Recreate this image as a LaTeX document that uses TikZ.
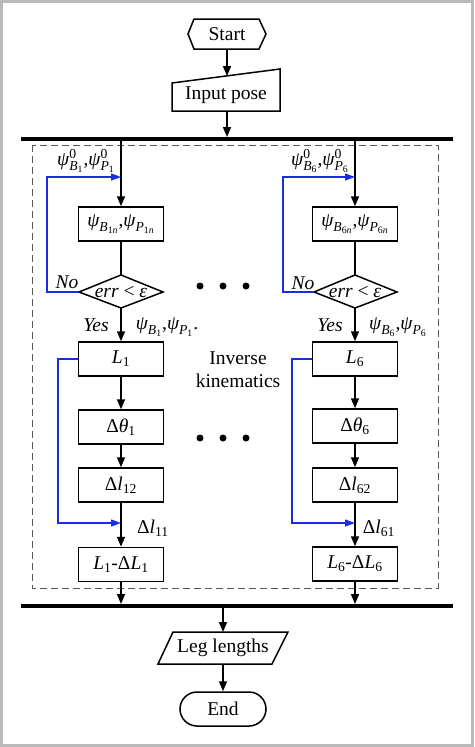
\documentclass[tikz,border=0pt]{standalone}
\usepackage{amsmath}
\usepackage{fontspec}
\setmainfont{Liberation Serif}
\usetikzlibrary{arrows.meta}
\definecolor{lb}{RGB}{25,45,225}
\newcommand\mi[1]{\text{\itshape #1}}
\newcommand\up[1]{\text{\upshape #1}}
\begin{document}
\begin{tikzpicture}[x=1pt,y=-1pt,
  font=\fontsize{19.5}{23}\selectfont,
  ln/.style={line width=1.5pt},
  arr/.style={ln,-{Triangle[length=10pt,width=8pt]}},
  barr/.style={draw=lb,line width=1.2pt,-{Triangle[length=10pt,width=7pt]}},
  blk/.style={draw,line width=1.5pt,minimum width=85pt,minimum height=34pt,inner sep=0pt},
  lbl/.style={inner sep=0pt},
  bar/.style={line width=3.5pt},
  dot/.style={fill,circle,inner sep=0pt,minimum size=7pt},
]
\useasboundingbox (0,0) rectangle (474,747);
\draw[gray!55,line width=3pt] (1.5,1.5) rectangle (472.5,745.5);

% dashed frame
\draw[gray!70!black,line width=1pt,dash pattern=on 7pt off 4pt] (32,145) rectangle (438,588);

% Start
\draw[ln] (188,34) -- (194,19) -- (259,19) -- (266,34) -- (259,49) -- (194,49) -- cycle;
\node (start) at (227,34) {Start};
\coordinate (startb) at (227,49);

% Input pose
\draw[ln] (172,83) -- (280,69) -- (280,111) -- (172,111) -- cycle;
\node (inp) at (226,95) {Input pose};
\coordinate (inpt) at (227,76);
\coordinate (inpb) at (227,111);

% bars
\coordinate (tbL) at (21,139);
\coordinate (tbR) at (453,139);
\coordinate (bbL) at (21,606);
\coordinate (bbR) at (453,606);
\draw[bar] (tbL) -- (tbR);
\draw[bar] (bbL) -- (bbR);
\coordinate (tbM) at (227,137);
\coordinate (tb1) at (121,139);
\coordinate (tb6) at (355,139);
\coordinate (bb1) at (121,604);
\coordinate (bb6) at (355,604);
\coordinate (bbM) at (223,606);

\draw[arr] (startb) -- (inpt);
\draw[arr] (inpb) -- (tbM);

% ---------- column 1 ----------
\node[blk] (psi1) at (121,224) {$\mi{ψ}_{\mi{B}_{\up{1}\mi{n}}}\text{,}\mi{ψ}_{\mi{P}_{\up{1}\mi{n}}}$};
\draw[ln] (79,292) -- (121,275) -- (163,292) -- (121,308) -- cycle;
\node[lbl] (d1) at (121,292) {\itshape err\/ \upshape< \itshape ε};
\coordinate (d1t) at (121,275);
\coordinate (d1b) at (121,308);
\coordinate (d1l) at (79,292);
\node[blk] (L1) at (121,359) {$\mi{L}_{\up{1}}$};
\node[blk] (th1) at (121,427) {$\up{Δ}\mi{θ}_{\up{1}}$};
\node[blk] (l12) at (121,485) {$\up{Δ}\mi{l}_{\up{12}}$};
\node[blk] (LL1) at (121,564.5) {$\mi{L}_{\up{1}}\text{-Δ}\mi{L}_{\up{1}}$};

\coordinate (j1) at (121,177);
\coordinate (k1) at (121,523);
\draw[arr] (tb1) -- (psi1.north);
\draw[ln] (psi1.south) -- (d1t);
\draw[arr] (d1b) -- (L1.north);
\draw[arr] (L1.south) -- (th1.north);
\draw[arr] (th1.south) -- (l12.north);
\draw[arr] (l12.south) -- (LL1.north);
\draw[arr] (LL1.south) -- (bb1);
\draw[barr] (d1l) -- (47,292) -- (47,177) -- (j1);
\draw[barr] (L1.west) -- (58,359) -- (58,523) -- (k1);

\node[lbl] (p01) at (86,161) {$\mi{ψ}^{\up{0}}_{\mi{B}_{\up{1}}}\text{,}\mi{ψ}^{\up{0}}_{\mi{P}_{\up{1}}}$};
\node[lbl] (no1) at (67,282) {\itshape No};
\node[lbl] (yes1) at (96,325) {\itshape Yes};
\node[lbl] (py1) at (167,327) {$\mi{ψ}_{\mi{B}_{\up{1}}}\text{,}\mi{ψ}_{\mi{P}_{\up{1}}}\text{.}$};
\node[lbl] (dl11) at (153,528) {$\up{Δ}\mi{l}_{\up{11}}$};

% ---------- column 6 ----------
\node[blk] (psi6) at (355,224) {$\mi{ψ}_{\mi{B}_{\up{6}\mi{n}}}\text{,}\mi{ψ}_{\mi{P}_{\up{6}\mi{n}}}$};
\draw[ln] (314,292) -- (355,275) -- (397,292) -- (355,308) -- cycle;
\node[lbl] (d6) at (355,292) {\itshape err\/ \upshape< \itshape ε};
\coordinate (d6t) at (355,275);
\coordinate (d6b) at (355,308);
\coordinate (d6l) at (314,292);
\node[blk] (L6) at (355,359) {$\mi{L}_{\up{6}}$};
\node[blk] (th6) at (355,426) {$\up{Δ}\mi{θ}_{\up{6}}$};
\node[blk] (l62) at (355,485) {$\up{Δ}\mi{l}_{\up{62}}$};
\node[blk] (LL6) at (355,564) {$\mi{L}_{\up{6}}\text{-Δ}\mi{L}_{\up{6}}$};

\coordinate (j6) at (355,177);
\coordinate (k6) at (355,523);
\draw[arr] (tb6) -- (psi6.north);
\draw[ln] (psi6.south) -- (d6t);
\draw[arr] (d6b) -- (L6.north);
\draw[arr] (L6.south) -- (th6.north);
\draw[arr] (th6.south) -- (l62.north);
\draw[arr] (l62.south) -- (LL6.north);
\draw[arr] (LL6.south) -- (bb6);
\draw[barr] (d6l) -- (283,292) -- (283,177) -- (j6);
\draw[barr] (L6.west) -- (292,359) -- (292,523) -- (k6);

\node[lbl] (p06) at (320,161) {$\mi{ψ}^{\up{0}}_{\mi{B}_{\up{6}}}\text{,}\mi{ψ}^{\up{0}}_{\mi{P}_{\up{6}}}$};
\node[lbl] (no6) at (303,283) {\itshape No};
\node[lbl] (yes6) at (330,325) {\itshape Yes};
\node[lbl] (py6) at (398,327) {$\mi{ψ}_{\mi{B}_{\up{6}}}\text{,}\mi{ψ}_{\mi{P}_{\up{6}}}$};
\node[lbl] (dl61) at (379,528) {$\up{Δ}\mi{l}_{\up{61}}$};

% middle
\node[align=center,inner sep=0pt] (ik) at (238,370) {Inverse\\kinematics};
\node[dot] (da1) at (200,286) {};
\node[dot] (da2) at (223,286) {};
\node[dot] (da3) at (246,286) {};
\node[dot] (db1) at (200,438) {};
\node[dot] (db2) at (223,438) {};
\node[dot] (db3) at (246,438) {};

% bottom
\draw[ln] (173,632) -- (288,632) -- (272,664) -- (158,664) -- cycle;
\node (leg) at (223,648) {Leg lengths};
\coordinate (legt) at (223,632);
\coordinate (legb) at (223,664);
\node[draw,ln,rounded corners=17pt,minimum width=86pt,minimum height=34pt,inner sep=0pt] (end) at (223,709) {End};
\draw[arr] (bbM) -- (legt);
\draw[arr] (legb) -- (end.north);
\end{tikzpicture}
\end{document}
